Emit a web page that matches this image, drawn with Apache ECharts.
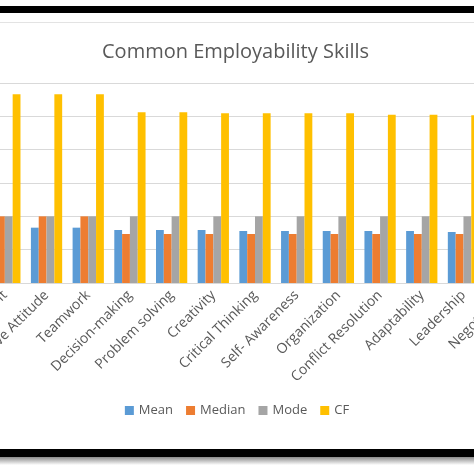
<!DOCTYPE html>
<html>
<head>
<meta charset="utf-8">
<script src="https://cdn.jsdelivr.net/npm/echarts@6/dist/echarts.min.js"></script>
<style>
  html, body { margin: 0; padding: 0; background: #fff; }
  #main { width: 474px; height: 474px; }
</style>
</head>
<body>
<div id="main"></div>
<script>
// data (first and last categories are cropped in the original)
const categories = ["Time Management", "Positive Attitude", "Teamwork", "Decision-making", "Problem solving",
  "Creativity", "Critical Thinking", "Self- Awareness", "Organization", "Conflict Resolution",
  "Adaptability", "Leadership", "Negotiation"];
const meanVals   = [1.66, 1.66, 1.66, 1.59, 1.59, 1.59, 1.56, 1.56, 1.56, 1.56, 1.56, 1.53, 1.53];
const medianVals = [2, 2, 2, 1.47, 1.47, 1.47, 1.47, 1.47, 1.47, 1.47, 1.47, 1.47, 1.47];
const modeVals   = [2, 2, 2, 2, 2, 2, 2, 2, 2, 2, 2, 2, 2];
const cfVals     = [5.66, 5.66, 5.66, 5.12, 5.12, 5.09, 5.09, 5.09, 5.09, 5.05, 5.05, 5.03, 5.0];

const txt = "#595959";
const grid = "#d9d9d9";

function bar(name, data, color) {
  return { name: name, type: "bar", data: data, itemStyle: { color: color },
    barGap: 0, barCategoryGap: "25%" };
}

let myChart = echarts.init(document.getElementById("main"));
myChart.setOption({
  animation: false,
  title: {
    text: "Common Employability Skills",
    left: 97,
    top: 37,
    textStyle: { color: txt, fontFamily: "Open Sans", fontSize: 20, fontWeight: "normal" }
  },
  legend: {
    bottom: 52,
    left: "center",
    itemWidth: 9,
    itemHeight: 9,
    itemGap: 13,
    icon: "rect",
    textStyle: { color: txt, fontFamily: "Open Sans", fontSize: 13 },
    data: ["Mean", "Median", "Mode", "CF"]
  },
  grid: { left: -16, right: -52, top: 83, height: 200, containLabel: false, outerBoundsMode: "none" },
  xAxis: {
    type: "category",
    data: categories,
    axisLine: { lineStyle: { color: grid } },
    axisTick: { show: false },
    axisLabel: { rotate: 45, interval: 0, margin: 10, color: txt, fontFamily: "Open Sans", fontSize: 14 }
  },
  yAxis: {
    type: "value",
    min: 0,
    max: 6,
    interval: 1,
    axisLabel: { show: false },
    axisLine: { show: false },
    splitLine: { lineStyle: { color: grid } }
  },
  graphic: [
    { type: "rect", shape: { x: 0, y: 6, width: 474, height: 7 }, style: { fill: "#000" } },
    { type: "rect", shape: { x: 0, y: 22, width: 474, height: 1 }, style: { fill: "#e3e3e3" } },
    { type: "rect", shape: { x: 0, y: 449, width: 474, height: 8 }, style: { fill: "#000" } },
    { type: "rect", shape: { x: 0, y: 457, width: 474, height: 8 },
      style: { fill: new echarts.graphic.LinearGradient(0, 0, 0, 1,
        [{ offset: 0, color: "#8a8a8a" }, { offset: 1, color: "#ffffff" }]) } }
  ],
  series: [
    bar("Mean", meanVals, "#5B9BD5"),
    bar("Median", medianVals, "#ED7D31"),
    bar("Mode", modeVals, "#A5A5A5"),
    bar("CF", cfVals, "#FFC000")
  ]
});
</script>
</body>
</html>
